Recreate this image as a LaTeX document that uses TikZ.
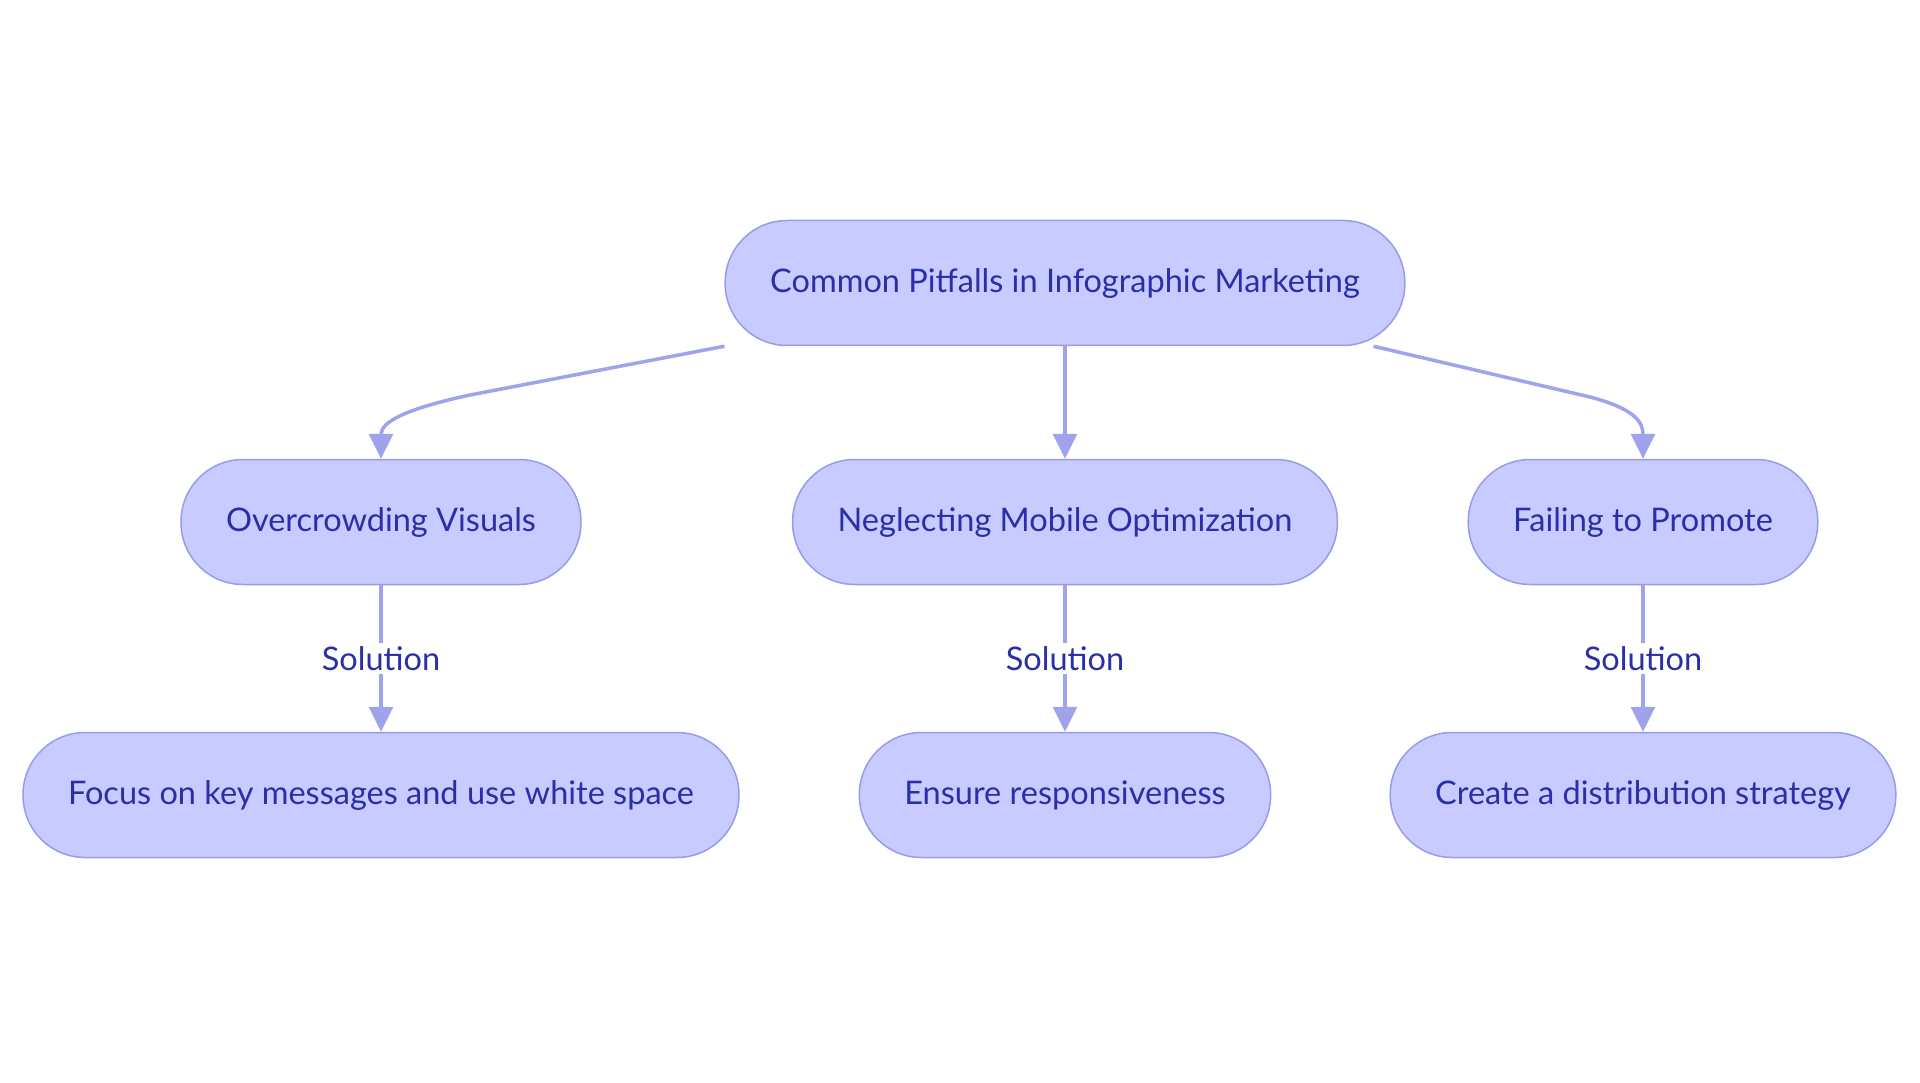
\documentclass[tikz,border=0pt]{standalone}
\usepackage{fontspec}
\setmainfont{Lato}
\usetikzlibrary{arrows.meta,calc}
\definecolor{boxfill}{RGB}{199,203,255}
\definecolor{boxline}{RGB}{150,156,232}
\definecolor{boxtext}{RGB}{42,46,168}
\definecolor{linkcol}{RGB}{158,163,235}
\begin{document}
\begin{tikzpicture}[x=1pt,y=-1pt]
		% Estilos
		\tikzstyle{pill} = [rectangle, rounded corners=62pt, minimum height=125pt, inner xsep=45pt, text centered, draw=boxline, line width=1.5pt, fill=boxfill, text=boxtext, font=\fontsize{32.5}{38}\selectfont]
		\tikzstyle{arrow} = [draw=linkcol, line width=3.5pt, -{Triangle[length=25pt,width=24pt]}]
		\tikzstyle{tag} = [fill=white, text=boxtext, inner sep=3pt, font=\fontsize{32.5}{38}\selectfont]
		\useasboundingbox (0,0) rectangle (1920,1083);
		% Nós
		\node (root) [pill] at (1065,283) {Common Pitfalls in Infographic Marketing};
		\node (over) [pill] at (381,522) {Overcrowding Visuals};
		\node (mobile) [pill] at (1065,522) {Neglecting Mobile Optimization};
		\node (promote) [pill] at (1643,522) {Failing to Promote};
		\node (focus) [pill] at (381,795) {Focus on key messages and use white space};
		\node (ensure) [pill] at (1065,795) {Ensure responsiveness};
		\node (create) [pill] at (1643,795) {Create a distribution strategy};
		% Setas
		\draw [arrow] (root.south west) -- (470,395) .. controls (405,409) and (381,422) .. (over.north);
		\draw [arrow] (root) -- (mobile);
		\draw [arrow] ($(root.south east)+(-32,0)$) -- (1590,397) .. controls (1635,409) and (1643,422) .. (promote.north);
		\draw [arrow] (over) -- node [tag] {Solution} (focus);
		\draw [arrow] (mobile) -- node [tag] {Solution} (ensure);
		\draw [arrow] (promote) -- node [tag] {Solution} (create);
	\end{tikzpicture}
\end{document}
